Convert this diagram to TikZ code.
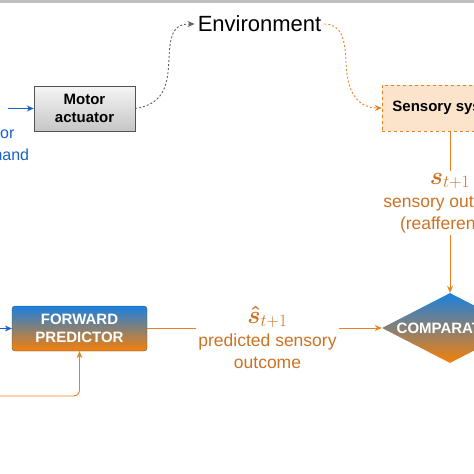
\documentclass[tikz,border=0pt]{standalone}
\usepackage{amsmath,bm}
\usepackage[no-math]{fontspec}
\setmainfont{Liberation Sans}
\usetikzlibrary{shapes.geometric,arrows.meta,calc}
\definecolor{myblue}{HTML}{1A62C6}
\definecolor{myorange}{HTML}{E8821E}
\definecolor{labor}{HTML}{CD7222}
\definecolor{gblue}{HTML}{1A80E0}
\definecolor{gorange}{HTML}{F5800A}
\definecolor{peach}{HTML}{FCE4CC}
\definecolor{darkg}{HTML}{606060}
\tikzset{
  boldtext/.style={font=\bfseries\fontsize{15}{18}\selectfont, align=center},
  motorbox/.style={boldtext, draw=gray!65!black, top color=gray!8, bottom color=gray!45, minimum width=101pt, minimum height=45pt, inner sep=0pt},
  fpbox/.style={boldtext, text=white, rounded corners=3pt, draw=gray!60!black, line width=0.3pt, top color=gblue, bottom color=gorange, minimum width=135pt, minimum height=45pt, inner sep=0pt},
  sensbox/.style={boldtext, draw=myorange, dashed, fill=peach, minimum width=136pt, minimum height=46pt, inner sep=0pt},
  comp/.style={boldtext, text=white, diamond, aspect=1.94, top color=gblue, bottom color=gorange, minimum width=136pt, minimum height=70pt, inner sep=0pt},
  lab/.style={text=labor, font=\fontsize{17.5}{22}\selectfont, align=center, inner sep=2pt},
  bluelab/.style={text=myblue, font=\fontsize{16}{22}\selectfont, align=center},
  tip/.style={-{Stealth[length=7pt,width=6pt]}},
  oline/.style={draw=myorange, line width=0.9pt},
  bline/.style={draw=myblue, line width=1pt},
}
\begin{document}
\begin{tikzpicture}[x=1pt,y=-1pt]
\useasboundingbox (0,0) rectangle (474,474);
\fill[gray!50] (0,0) rectangle (474,2.5);
\node[font=\fontsize{22}{24}\selectfont, inner sep=3pt] (env) at (259.5,24) {Environment};
\node[motorbox] (motor) at (84.5,108.5) {Motor\\actuator};
\node[sensbox] (sens) at (450,108) {Sensory system};
\node[fpbox] (fp) at (79.5,328.5) {FORWARD\\PREDICTOR};
\node[comp] (cmp) at (450,328) {COMPARATOR};
\node[bluelab] (mc) at (-6,144) {motor\\command};
\node[lab, anchor=north] (slab) at (450,171) {{\fontsize{24}{24}\selectfont$\bm{s}_{t+1}$}\\[1pt]sensory outcome\\(reafference)};
\node[lab] (plab) at (267.5,337) {{\fontsize{23}{23}\selectfont$\bm{\hat{s}}_{t+1}$}\\[1pt]predicted sensory\\outcome};
\coordinate (mcin) at (8,108.5);
\coordinate (fpin) at (-2,328.5);
\coordinate (ecin) at (-2,396);
% connectors
\draw[bline, tip] (mcin) -- (motor.west);
\draw[bline, tip] (fpin) -- (fp.west);
\draw[oline, tip, rounded corners=6pt] (ecin) -| (fp.south);
\draw[oline] (fp.east) -- (fp.east -| plab.west);
\draw[oline, tip] (plab.east |- cmp.west) -- (cmp.west);
\draw[oline] (sens.south) -- (slab.north);
\draw[oline, tip] (slab.south) -- (cmp.north);
\draw[darkg, line width=0.9pt, dash pattern=on 2pt off 2pt, tip] (motor.east) .. controls (166,104) and (168,82) .. (169,58) .. controls (170,30) and (176,24) .. (env.west);
\draw[myorange, line width=0.9pt, dash pattern=on 2pt off 2pt, tip] (env.east) .. controls (342,24) and (345,40) .. (346,62) .. controls (347,98) and (362,108) .. (sens.west);
\end{tikzpicture}
\end{document}
